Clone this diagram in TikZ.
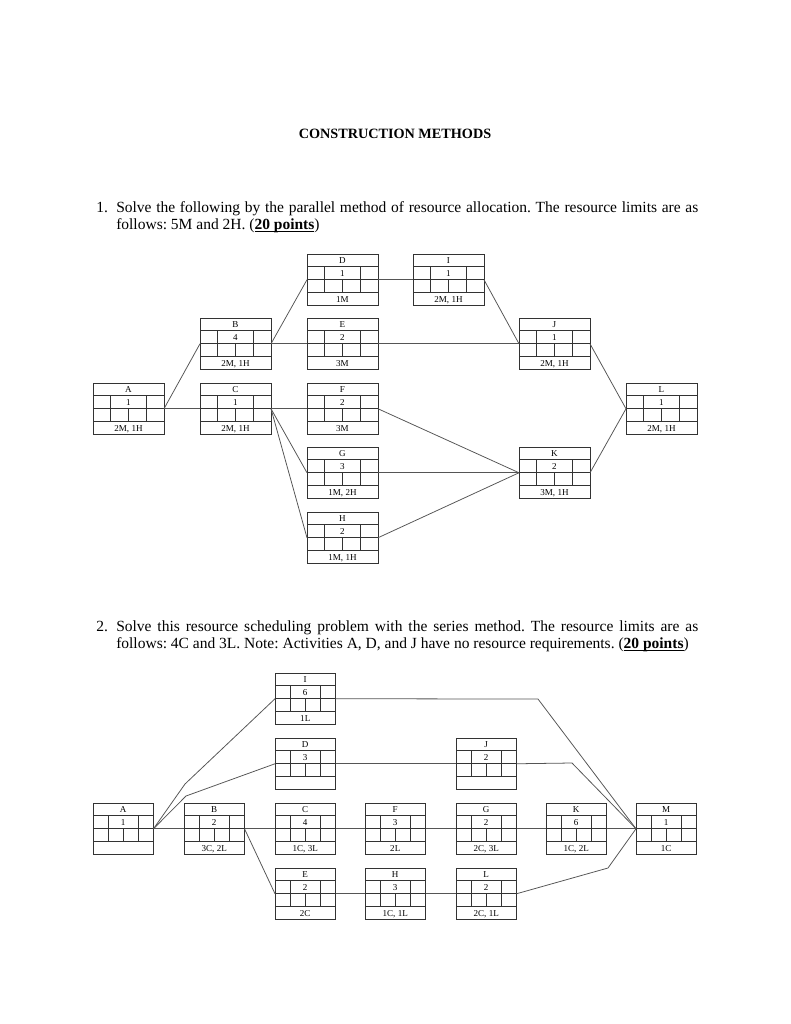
\documentclass[tikz,border=0pt]{standalone}
\usepackage{fontspec}
\setmainfont{Liberation Serif}
\usetikzlibrary{positioning}
\definecolor{boxline}{HTML}{333333}
\definecolor{linkgray}{HTML}{555555}
\def\pxu{0.7737pt}
\frenchspacing
\newcommand\ulpts[1]{\setbox0\hbox{#1}\rlap{\rule[-1.3pt]{\wd0}{0.6pt}}\box0}
\tikzset{
  actbox/.style={draw=boxline, line width=0.6pt, inner sep=0pt, outer sep=0pt,
                 anchor=north west, minimum height=39.85pt},
  actgrid/.style={boxline, line width=0.6pt},
  acttext/.style={font=\fontsize{7}{8}\selectfont, inner sep=0pt, text height=4.6pt, text depth=0pt},
  link/.style={linkgray, line width=0.6pt},
  qnum/.style={font=\fontsize{12}{13.9}\selectfont, inner sep=0pt, anchor=base west},
  qtext/.style={font=\fontsize{12}{13.9}\selectfont, text width=450.3pt, align=justify,
                inner sep=0pt, anchor=base west},
}
\newcommand\actbox[6]{% name, top-left, width (px), letter, duration, resources
  \begin{scope}[shift={(#2)}]
    \node[actbox, minimum width=#3*\pxu] (#1) at (0,0) {};
    \draw[actgrid] (0,12.875) -- (#3,12.875) (0,25.75) -- (#3,25.75) (0,38.625) -- (#3,38.625)
      (#3/4,12.875) -- (#3/4,38.625) (3*#3/4,12.875) -- (3*#3/4,38.625) (#3/2,25.75) -- (#3/2,38.625);
    \node[acttext] (#1-name) at (#3/2,6.44) {#4};
    \node[acttext] (#1-dur) at (#3/2,19.31) {#5};
    \node[acttext] (#1-res) at (#3/2,45.06) {#6};
  \end{scope}}
\begin{document}
\begin{tikzpicture}[x=0.7737pt,y=-0.7737pt]
  \useasboundingbox (0,0) rectangle (791,1024);
  \node[font=\bfseries\fontsize{11}{13}\selectfont, anchor=base, inner sep=0pt] (title) at (395,138) {CONSTRUCTION METHODS};

  \node[qnum] (q1num) at (96,212) {1.};
  \node[qtext] (q1) at (116,212) {Solve the following by the parallel method of resource allocation. The resource limits are as\linebreak follows: 5M and 2H. (\ulpts{\textbf{20 points}})};

  % parallel method network
  \actbox{pA}{93,383}{71}{A}{1}{2M, 1H}
  \actbox{pB}{200,318}{71}{B}{4}{2M, 1H}
  \actbox{pC}{200,383}{71}{C}{1}{2M, 1H}
  \actbox{pD}{307,254}{71}{D}{1}{1M}
  \actbox{pE}{307,318}{71}{E}{2}{3M}
  \actbox{pF}{307,383}{71}{F}{2}{3M}
  \actbox{pG}{307,447}{71}{G}{3}{1M, 2H}
  \actbox{pH}{307,512}{71}{H}{2}{1M, 1H}
  \actbox{pI}{413,254}{71}{I}{1}{2M, 1H}
  \actbox{pJ}{519,318}{71}{J}{1}{2M, 1H}
  \actbox{pK}{519,447}{71}{K}{2}{3M, 1H}
  \actbox{pL}{626,383}{71}{L}{1}{2M, 1H}
  \draw[link] (pA.east) -- (pB.west);
  \draw[link] (pA.east) -- (pC.west);
  \draw[link] (pB.east) -- (pD.west);
  \draw[link] (pB.east) -- (pE.west);
  \draw[link] (pC.east) -- (pF.west);
  \draw[link] (pC.east) -- (pG.west);
  \draw[link] (pC.east) -- (pH.west);
  \draw[link] (pD.east) -- (pI.west);
  \draw[link] (pE.east) -- (pJ.west);
  \draw[link] (pI.east) -- (pJ.west);
  \draw[link] (pF.east) -- (pK.west);
  \draw[link] (pG.east) -- (pK.west);
  \draw[link] (pH.east) -- (pK.west);
  \draw[link] (pJ.east) -- (pL.west);
  \draw[link] (pK.east) -- (pL.west);

  \node[qnum] (q2num) at (96,631) {2.};
  \node[qtext] (q2) at (116,631) {Solve this resource scheduling problem with the series method. The resource limits are as\linebreak follows: 4C and 3L. Note: Activities A, D, and J have no resource requirements. (\ulpts{\textbf{20 points}})};

  % series method network
  \actbox{sA}{93,803}{60.5}{A}{1}{}
  \actbox{sB}{184,803}{60.5}{B}{2}{3C, 2L}
  \actbox{sC}{275,803}{60.5}{C}{4}{1C, 3L}
  \actbox{sF}{365,803}{60.5}{F}{3}{2L}
  \actbox{sG}{456,803}{60.5}{G}{2}{2C, 3L}
  \actbox{sK}{546,803}{60.5}{K}{6}{1C, 2L}
  \actbox{sM}{636,803}{60.5}{M}{1}{1C}
  \actbox{sI}{275,673}{60.5}{I}{6}{1L}
  \actbox{sD}{275,738}{60.5}{D}{3}{}
  \actbox{sJ}{456,738}{60.5}{J}{2}{}
  \actbox{sE}{275,868}{60.5}{E}{2}{2C}
  \actbox{sH}{365,868}{60.5}{H}{3}{1C, 1L}
  \actbox{sL}{456,868}{60.5}{L}{2}{2C, 1L}
  \coordinate (bendAI) at (185,784);
  \coordinate (bendAD) at (186,796);
  \coordinate (bendIM) at (538,699);
  \coordinate (bendJM) at (572,763);
  \coordinate (bendLM) at (608,868);
  \draw[link] (sA.east) -- (bendAI) -- (sI.west);
  \draw[link] (sA.east) -- (bendAD) -- (sD.west);
  \draw[link] (sA.east) -- (sB.west);
  \draw[link] (sB.east) -- (sC.west);
  \draw[link] (sB.east) -- (sE.west);
  \draw[link] (sC.east) -- (sF.west);
  \draw[link] (sF.east) -- (sG.west);
  \draw[link] (sG.east) -- (sK.west);
  \draw[link] (sK.east) -- (sM.west);
  \draw[link] (sD.east) -- (sJ.west);
  \draw[link] (sE.east) -- (sH.west);
  \draw[link] (sH.east) -- (sL.west);
  \draw[link] (sI.east) -- (bendIM) -- (sM.west);
  \draw[link] (sJ.east) -- (bendJM) -- (sM.west);
  \draw[link] (sL.east) -- (bendLM) -- (sM.west);
\end{tikzpicture}
\end{document}
